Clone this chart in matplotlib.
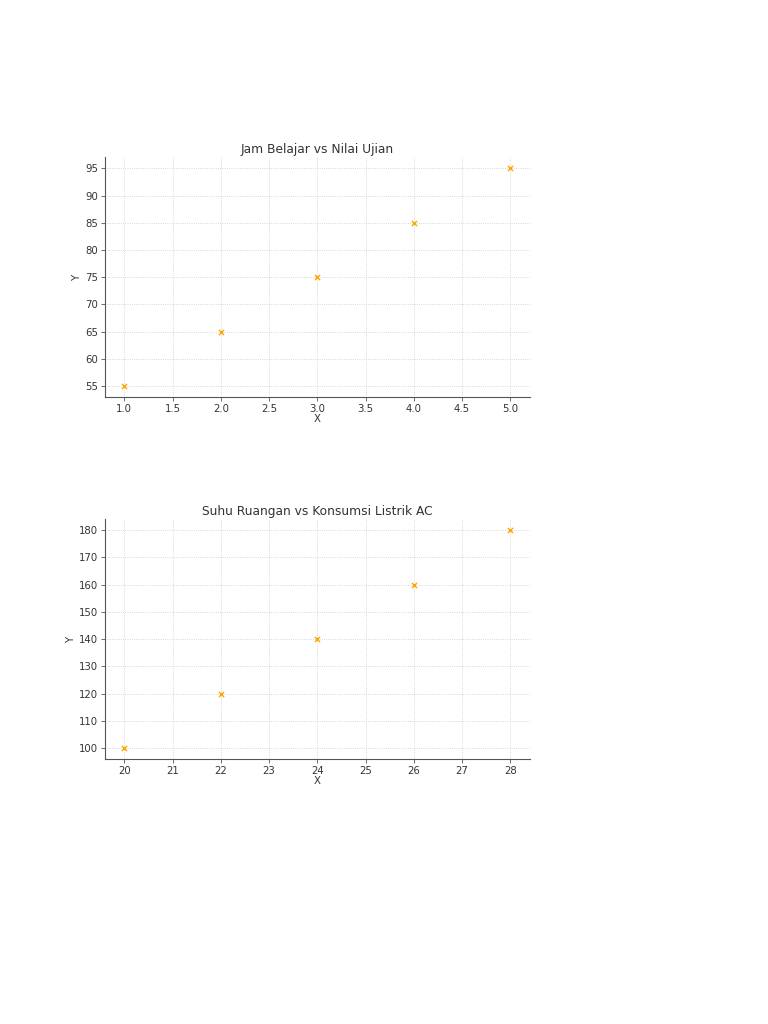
import matplotlib.pyplot as plt

jam = [1, 2, 3, 4, 5]
nilai = [55, 65, 75, 85, 95]
suhu = [20, 22, 24, 26, 28]
listrik = [100, 120, 140, 160, 180]

plt.rcParams.update({'font.size': 7.3, 'text.color': '#333333',
                     'xtick.color': '#333333', 'ytick.color': '#333333',
                     'axes.labelcolor': '#333333'})

fig = plt.figure(figsize=(7.68, 10.24), dpi=100)

def panel(rect, x, y, title):
    ax = fig.add_axes(rect)
    ax.scatter(x, y, marker="x", color="orange", s=14, linewidths=1)
    ax.set_title(title, fontsize=8.8, pad=3)
    ax.set_xlabel("X", labelpad=0)
    ax.set_ylabel("Y", labelpad=2)
    ax.grid(True, linestyle=":", color="#cccccc", linewidth=0.6)
    ax.set_axisbelow(True)
    for s in ["top", "right"]:
        ax.spines[s].set_visible(False)
    for s in ["left", "bottom"]:
        ax.spines[s].set_color("#555555")
    ax.tick_params(length=3, width=0.6, color="#555555", pad=2)
    return ax

panel([0.1367, 0.6123, 0.553, 0.234], jam, nilai, "Jam Belajar vs Nilai Ujian")
panel([0.1367, 0.2588, 0.553, 0.234], suhu, listrik, "Suhu Ruangan vs Konsumsi Listrik AC")

fig.savefig("out.png")
